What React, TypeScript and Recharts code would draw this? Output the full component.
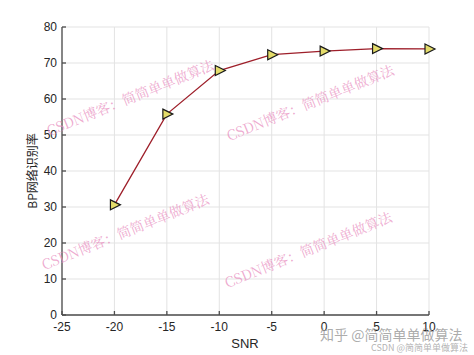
import { LineChart, Line, XAxis, YAxis, CartesianGrid } from 'recharts'

const snr = [-20, -15, -10, -5, 0, 5, 10]
const rate = [30.6, 55.8, 67.9, 72.3, 73.3, 74.0, 73.9]
const xTicks = [-25, -20, -15, -10, -5, 0, 5, 10]
const yTicks = [0, 10, 20, 30, 40, 50, 60, 70, 80]
const watermark = 'CSDN博客：简简单单做算法'

const data = snr.map((s, i) => ({ snr: s, rate: rate[i] }))

const axisColor = '#4d4d4d'
const tickFill = '#262626'

function TriangleDot(props: any) {
  const { cx, cy } = props
  if (cx == null || cy == null) return null
  const r = 5
  return (
    <polygon
      points={`${cx - r + 1},${cy - r} ${cx + r + 1},${cy} ${cx - r + 1},${cy + r}`}
      fill="#e4dc6a"
      stroke="#1a1a1a"
      strokeWidth={1.2}
    />
  )
}

const marks = [
  { left: 50, top: 138 },
  { left: 230, top: 143 },
  { left: 45, top: 272 },
  { left: 228, top: 290 },
]

export default function App() {
  return (
    <div style={{ position: 'absolute', left: 0, top: 0, width: 474, height: 355, background: '#fff', fontFamily: '"Liberation Sans", Arial, sans-serif' }}>
      <LineChart width={474} height={355} data={data} margin={{ top: 27, right: 45, bottom: 0, left: 0 }}>
        <CartesianGrid xAxisId="b" yAxisId="l" stroke="#e3e3e3" strokeWidth={1} />
        <XAxis
          xAxisId="b"
          dataKey="snr"
          type="number"
          domain={[-25, 10]}
          ticks={xTicks}
          height={40}
          stroke={axisColor}
          strokeWidth={1.3}
          tickSize={-4}
          tickMargin={11}
          tick={{ fontSize: 12, fill: tickFill }}
        />
        <XAxis
          xAxisId="t"
          orientation="top"
          dataKey="snr"
          type="number"
          domain={[-25, 10]}
          ticks={xTicks}
          height={0}
          stroke={axisColor}
          strokeWidth={1.3}
          tickSize={-4}
          tick={false}
        />
        <YAxis
          yAxisId="l"
          domain={[0, 80]}
          ticks={yTicks}
          width={62}
          stroke={axisColor}
          strokeWidth={1.3}
          tickSize={-4}
          tickMargin={9}
          tick={{ fontSize: 12, fill: tickFill }}
          label={{ value: 'BP网络识别率', angle: -90, position: 'insideLeft', offset: 33, fontSize: 12, fill: tickFill, fontFamily: '"Noto Sans CJK SC", sans-serif', style: { textAnchor: 'middle' } }}
        />
        <YAxis
          yAxisId="r"
          orientation="right"
          domain={[0, 80]}
          ticks={yTicks}
          width={0}
          stroke={axisColor}
          strokeWidth={1.3}
          tickSize={-4}
          tick={false}
        />
        <Line
          xAxisId="b"
          yAxisId="l"
          dataKey="rate"
          stroke="#9e1f2a"
          strokeWidth={1.3}
          dot={<TriangleDot />}
          activeDot={false}
          isAnimationActive={false}
        />
      </LineChart>
      <div style={{ position: 'absolute', left: 245, top: 336, transform: 'translateX(-50%)', fontSize: 13, lineHeight: '15px', color: tickFill }}>
        SNR
      </div>
      {marks.map((m, i) => (
        <div
          key={i}
          style={{
            position: 'absolute', left: m.left, top: m.top - 16, whiteSpace: 'nowrap',
            transform: 'rotate(-22deg)', transformOrigin: '0% 100%',
            color: 'rgba(232,140,190,0.75)', fontSize: 14, lineHeight: '16px',
            fontFamily: '"Noto Serif CJK SC", "Noto Sans CJK SC", serif', pointerEvents: 'none',
          }}
        >
          {watermark}
        </div>
      ))}
      <div style={{ position: 'absolute', left: 320, top: 326, whiteSpace: 'nowrap', color: 'rgba(150,150,150,0.8)', fontSize: 14, lineHeight: '17px', fontFamily: '"Noto Sans CJK SC", sans-serif' }}>
        知乎 @简简单单做算法
      </div>
      <div style={{ position: 'absolute', left: 371, top: 342, whiteSpace: 'nowrap', color: 'rgba(170,170,170,0.9)', fontSize: 9, lineHeight: '11px', fontFamily: '"Noto Sans CJK SC", sans-serif' }}>
        CSDN @简简单单做算法
      </div>
    </div>
  )
}
